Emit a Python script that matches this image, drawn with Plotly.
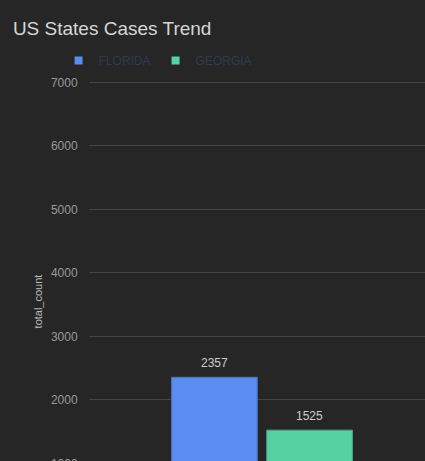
import plotly.graph_objects as go

states = ['FLORIDA', 'GEORGIA']
category = ['']
florida_total = [2357]
georgia_total = [1525]

colors = {'FLORIDA': '#5b8cf0', 'GEORGIA': '#56d1a1'}
lines = {'FLORIDA': '#4a72c4', 'GEORGIA': '#46a883'}
values = {'FLORIDA': florida_total, 'GEORGIA': georgia_total}
label_shift = {'FLORIDA': -47.5, 'GEORGIA': 47.5}

fig = go.Figure()
for s in states:
    fig.add_trace(go.Bar(
        name=s,
        x=category,
        y=values[s],
        marker=dict(color=colors[s], line=dict(color=lines[s], width=1)),
        showlegend=False,
    ))
    for c, v in zip(category, values[s]):
        fig.add_annotation(x=c, y=v, text=str(v), showarrow=False, xshift=label_shift[s],
                           yanchor='bottom', yshift=5, font=dict(color='#cccccc', size=12))
# legend entries with small square markers
for s in states:
    fig.add_trace(go.Scatter(
        name=s, x=category, y=[None], mode='markers',
        marker=dict(symbol='square', size=8, color=colors[s]),
    ))

fig.update_layout(
    width=445,
    height=600,
    paper_bgcolor='#262626',
    plot_bgcolor='#262626',
    font=dict(family='Liberation Sans', color='#2f3b50'),
    title=dict(text='US States Cases Trend', x=0.029, y=0.953, xanchor='left', yanchor='middle',
               font=dict(size=19, color='#d6d6d6')),
    legend=dict(orientation='h', x=-0.088, y=1.0346, xanchor='left', yanchor='middle',
                font=dict(size=12, color='#2f3b50'), bgcolor='rgba(0,0,0,0)', tracegroupgap=0),
    margin=dict(l=89, r=10, t=76, b=73),
    bargap=0.45,
    bargroupgap=0.1,
    showlegend=True,
)
fig.update_yaxes(
    range=[0, 7100], dtick=1000, showgrid=True, gridcolor='#444444', gridwidth=1,
    zeroline=False, tickfont=dict(color='#999999', size=12), ticks='outside',
    ticklen=0, ticklabelstandoff=8,
    title=dict(text='total_count', font=dict(color='#bbbbbb', size=11), standoff=6),
)
fig.update_xaxes(type='category', range=[-0.5, 0.5], showgrid=False, showticklabels=False,
                 zeroline=False)

fig.write_html('out.html', config={'displayModeBar': False},
               post_script="document.body.style.margin='0';document.body.style.overflow='hidden';")
